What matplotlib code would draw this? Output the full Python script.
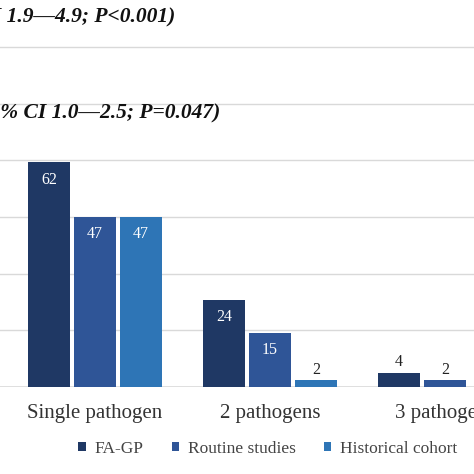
import matplotlib
matplotlib.use("Agg")
import matplotlib.pyplot as plt
import numpy as np

categories = ["Single pathogen", "2 pathogens", "3 pathogens"]
series = ["FA-GP", "Routine studies", "Historical cohort"]
fagp = [62, 24, 4]
routine = [47, 15, 2]
historical = [47, 2, 0]
colors = ["#1f3864", "#2f5597", "#2e75b6"]

plt.rcParams['font.family'] = ['Liberation Serif', 'DejaVu Serif']
fig = plt.figure(figsize=(4.74, 4.74), dpi=100)
base = 387
ax = fig.add_axes([0, (474 - base) / 474, 1, base / 474])
step = 15.65
ax.set_ylim(0, base / 56.7 * step)
ax.set_xlim(-95 / 175, (474 - 95) / 175)
for k in range(1, 7):
    ax.axhline(k * step, color="#d9d9d9", lw=1, zorder=0)
ax.axhline(0, color="#d9d9d9", lw=1.2, zorder=0)
x = np.arange(len(categories))
w = 0.24
off = 0.263
for i, (vals, c) in enumerate(zip([fagp, routine, historical], colors)):
    xs = x + (i - 1) * off
    ax.bar(xs, vals, w, color=c, label=series[i], zorder=2)
    for xx, v in zip(xs, vals):
        if v == 0:
            continue
        if v >= 10:
            ax.text(xx, v - 2.6, str(v), ha="center", va="top", color="white", fontsize=11.5)
        else:
            ax.text(xx, v + 0.6, str(v), ha="center", va="bottom", color="#222", fontsize=11.5)
for xx, lab in zip(x, categories):
    ax.text(xx, -7.2, lab, ha="center", va="center", fontsize=15, color="#333", clip_on=False)
ax.axis("off")
fig.text(175 / 474, 1 - 17 / 474, "(OR 3.1; 95% CI 1.9\u20144.9; P<0.001)", ha="right", va="center",
         fontsize=15.5, fontweight="bold", style="italic", color="#111")
fig.text(220 / 474, 1 - 113 / 474, "(OR 1.6; 95% CI 1.0\u20142.5; P=0.047)", ha="right", va="center",
         fontsize=15.5, fontweight="bold", style="italic", color="#111")
h, l = ax.get_legend_handles_labels()
fig.legend(h, l, loc="center", bbox_to_anchor=(0.565, 25 / 474), ncol=3, frameon=False,
           fontsize=12.5, handlelength=0.45, handleheight=0.45, columnspacing=1.6, handletextpad=0.5,
           labelcolor="#444")
fig.savefig("out.png", dpi=100)
